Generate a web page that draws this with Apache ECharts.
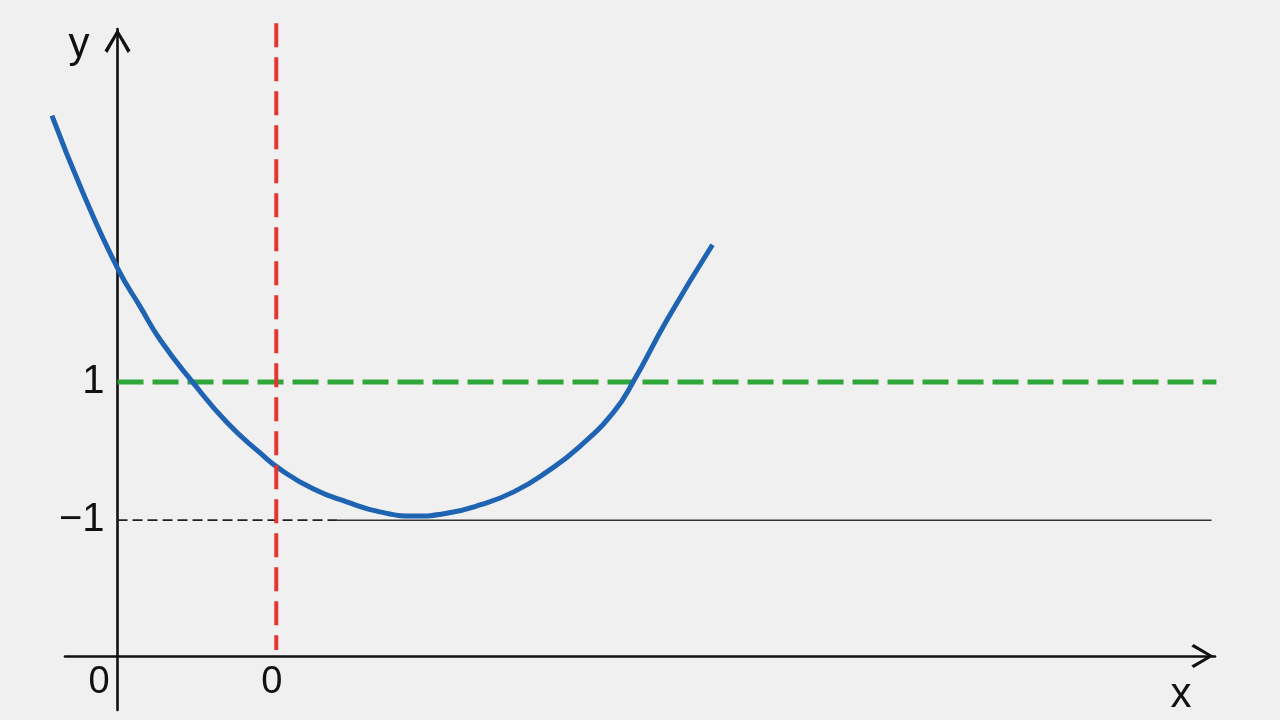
<!DOCTYPE html>
<html>
<head>
<meta charset="utf-8">
<script src="https://cdn.jsdelivr.net/npm/echarts@6/dist/echarts.min.js"></script>
<style>
  html, body { margin: 0; padding: 0; background: #f0f0f0; }
  #chart { width: 1280px; height: 720px; }
</style>
</head>
<body>
<div id="chart"></div>
<script>
// ---- data ----
const curveX = [-0.95, -0.5, 0, 0.33, 0.62, 1.08, 1.59, 2.07, 2.36, 2.84, 3.32, 3.80, 4.29, 4.77, 5.25, 5.74, 6.22, 6.70, 7.19, 7.48, 7.96, 8.62];
const curveY = [4.86, 3.74, 2.65, 2.09, 1.61, 1.01, 0.41, -0.03, -0.265, -0.55, -0.735, -0.88, -0.94, -0.90, -0.78, -0.59, -0.30, 0.07, 0.57, 1.02, 1.90, 2.99];
const greenLineX = [0, 15.92];
const greenLineY = [1, 1];
const redLineX = [2.30, 2.30];
const redLineY = [6.2, -2.88];
const minusOneDashedX = [0, 3.18];
const minusOneSolidX = [3.18, 15.85];
const minusOneY = [-1, -1];
const yTickValues = [-1, 1];
const yTickLabels = ['\u22121', '1'];
const xTickValues = [0, 2.30];
const xTickLabels = ['0', '0'];

function pairs(xs, ys) { return xs.map((x, i) => [x, ys[i]]); }

const FONT = '"Liberation Sans", Arial, sans-serif';
const AXIS_COLOR = '#111111';
const chevron = 'path://M12,0 L24,20 L21.4,22.2 L12,5.4 L2.6,22.2 L0,20 Z';

const chart = echarts.init(document.getElementById('chart'), null, { renderer: 'canvas' });

chart.setOption({
  backgroundColor: '#f0f0f0',
  animation: false,
  grid: [
    // plotting grid (same scale as the visible axes: 69 px per unit, origin at (117.5, 451))
    { left: 48.5, right: 65, top: 20, bottom: 10, containLabel: false, outerBoundsMode: 'none' },
    // grid carrying the visible y axis
    { left: 117.5, right: 65, top: 29, bottom: 10, containLabel: false, outerBoundsMode: 'none' },
    // grid carrying the visible x axis (drawn at y = -3)
    { left: 65, right: 65, top: 29, bottom: 64, containLabel: false, outerBoundsMode: 'none' }
  ],
  xAxis: [
    { gridIndex: 0, type: 'value', min: -1.0, max: 15.9, show: false },
    { gridIndex: 1, type: 'value', min: 0, max: 15.9, show: false },
    {
      gridIndex: 2,
      type: 'value',
      min: -0.77,
      max: 15.9,
      axisLine: {
        onZero: false,
        symbol: ['none', chevron],
        symbolSize: [24, 25],
        symbolOffset: [0, -12.5],
        lineStyle: { color: AXIS_COLOR, width: 2.6 }
      },
      axisTick: { show: false },
      splitLine: { show: false },
      axisLabel: {
        customValues: xTickValues,
        margin: 8,
        color: AXIS_COLOR,
        fontFamily: FONT,
        fontSize: 38,
        formatter: function (v) {
          const i = xTickValues.indexOf(v);
          const t = i >= 0 ? xTickLabels[i] : '';
          return i === 0 ? '{o|' + t + '}' : '{r|' + t + '}';
        },
        rich: {
          o: { fontSize: 38, fontFamily: FONT, color: AXIS_COLOR, padding: [0, 38, 0, 0] },
          r: { fontSize: 38, fontFamily: FONT, color: AXIS_COLOR, padding: [0, 10, 0, 0] }
        }
      },
      name: 'x',
      nameLocation: 'end',
      nameGap: -34,
      nameTextStyle: {
        fontSize: 42, fontFamily: FONT, color: AXIS_COLOR,
        align: 'center', verticalAlign: 'top', padding: [18, 0, 0, 0]
      }
    }
  ],
  yAxis: [
    { gridIndex: 0, type: 'value', min: -3.75, max: 6.246, show: false },
    {
      gridIndex: 1,
      type: 'value',
      min: -3.75,
      max: 6.12,
      axisLine: {
        onZero: false,
        symbol: ['none', chevron],
        symbolSize: [26, 24],
        symbolOffset: [0, -12],
        lineStyle: { color: AXIS_COLOR, width: 2.6 }
      },
      axisTick: { show: false },
      splitLine: { show: false },
      axisLabel: {
        customValues: yTickValues,
        margin: 13,
        color: AXIS_COLOR,
        fontFamily: FONT,
        fontSize: 40,
        formatter: function (v) {
          const i = yTickValues.indexOf(v);
          return i >= 0 ? yTickLabels[i] : '';
        }
      },
      name: 'y',
      nameLocation: 'end',
      nameGap: -16,
      nameTextStyle: {
        fontSize: 42, fontFamily: FONT, color: AXIS_COLOR,
        align: 'right', verticalAlign: 'middle', padding: [0, 28, 0, 0]
      }
    },
    { gridIndex: 2, type: 'value', min: 0, max: 1, show: false }
  ],
  series: [
    {
      name: 'minus one dashed',
      type: 'line',
      xAxisIndex: 0, yAxisIndex: 0,
      data: pairs(minusOneDashedX, minusOneY),
      symbol: 'none',
      clip: false,
      z: 2,
      lineStyle: { color: '#222222', width: 1.9, type: [10, 5] }
    },
    {
      name: 'minus one solid',
      type: 'line',
      xAxisIndex: 0, yAxisIndex: 0,
      data: pairs(minusOneSolidX, minusOneY),
      symbol: 'none',
      clip: false,
      z: 2,
      lineStyle: { color: '#333333', width: 1.5 }
    },
    {
      name: 'green',
      type: 'line',
      xAxisIndex: 0, yAxisIndex: 0,
      data: pairs(greenLineX, greenLineY),
      symbol: 'none',
      clip: false,
      z: 3,
      lineStyle: { color: '#2ea63a', width: 5, type: [26, 9] }
    },
    {
      name: 'curve',
      type: 'line',
      xAxisIndex: 0, yAxisIndex: 0,
      data: pairs(curveX, curveY),
      symbol: 'none',
      smooth: 0.5,
      clip: false,
      z: 4,
      lineStyle: { color: '#1f63b3', width: 5 }
    },
    {
      name: 'red',
      type: 'line',
      xAxisIndex: 0, yAxisIndex: 0,
      data: pairs(redLineX, redLineY),
      symbol: 'none',
      clip: false,
      z: 5,
      lineStyle: { color: '#e53530', width: 4, type: [24, 10] }
    }
  ]
});
</script>
</body>
</html>
